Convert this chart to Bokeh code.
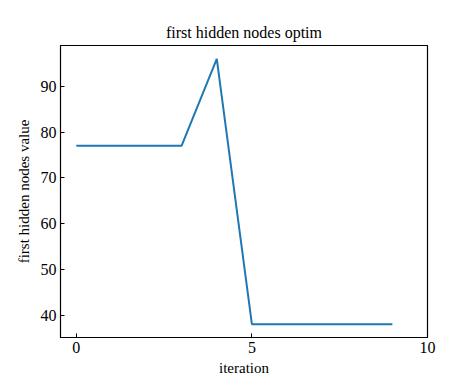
from bokeh.plotting import figure
from bokeh.models import FixedTicker, Range1d
from bokeh.embed import file_html
from bokeh.resources import INLINE

iteration = [0, 1, 2, 3, 4, 5, 6, 7, 8, 9]
nodes_value = [77, 77, 77, 77, 96, 38, 38, 38, 38, 38]
x_ticks = [0, 5, 10]
y_ticks = [40, 50, 60, 70, 80, 90]

FONT = "Liberation Serif"

p = figure(width=474, height=379, output_backend="svg", toolbar_location=None,
           x_range=Range1d(-0.45, 10), y_range=Range1d(35.1, 98.9),
           title="first hidden nodes optim",
           min_border_left=60, min_border_right=47, min_border_top=45, min_border_bottom=42)

p.line(iteration, nodes_value, line_color="#1f77b4", line_width=2)

p.title.text_font = FONT
p.title.text_font_style = "normal"
p.title.text_font_size = "16px"
p.title.align = "center"
p.title.text_color = "black"

p.xgrid.visible = False
p.ygrid.visible = False
p.outline_line_color = "black"
p.outline_line_width = 1.2
p.outline_line_alpha = 1

p.xaxis.ticker = FixedTicker(ticks=x_ticks)
p.yaxis.ticker = FixedTicker(ticks=y_ticks)
p.xaxis.axis_label = "iteration"
p.yaxis.axis_label = "first hidden nodes value"
for ax in (p.xaxis, p.yaxis):
    ax.major_tick_in = 4
    ax.major_tick_out = 0
    ax.minor_tick_line_color = None
    ax.major_tick_line_color = "black"
    ax.axis_line_color = "black"
    ax.major_label_text_font = FONT
    ax.major_label_text_font_size = "16px"
    ax.major_label_text_color = "black"
    ax.axis_label_text_font = FONT
    ax.axis_label_text_font_size = "15px"
    ax.axis_label_text_font_style = "normal"
    ax.axis_label_text_color = "black"
p.xaxis.major_label_standoff = 4
p.yaxis.major_label_standoff = 4
p.xaxis.axis_label_standoff = 4
p.yaxis.axis_label_standoff = 6
p.yaxis.major_label_orientation = "horizontal"

open("out.html", "w").write(file_html(p, INLINE))
